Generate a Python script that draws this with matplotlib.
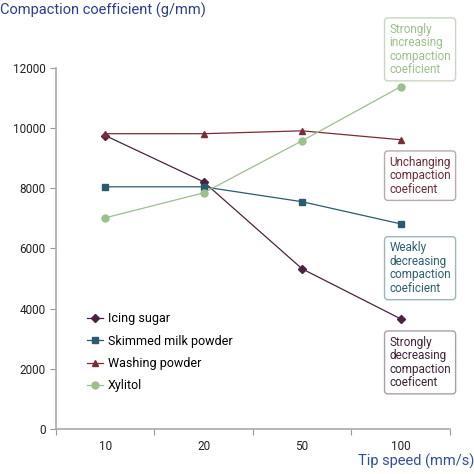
"""Compaction coefficient vs tip speed for four powders."""

import matplotlib
matplotlib.use("Agg")
import matplotlib.pyplot as plt
import matplotlib as mpl

mpl.rcParams.update({
    "font.family": ["Roboto", "DejaVu Sans"],
    "font.size": 9,
    "axes.spines.top": False,
    "axes.spines.right": False,
})

speeds = ["10", "20", "50", "100"]
icing_sugar = [9750, 8210, 5320, 3660]
skimmed_milk = [8045, 8045, 7550, 6815]
washing_powder = [9810, 9810, 9905, 9610]
xylitol = [7015, 7845, 9575, 11370]

notes = [
    ("Strongly\nincreasing\ncompaction\ncoeficient", 13500, "#9cbf8e", "#c9d6c2"),
    ("Unchanging\ncompaction\ncoeficent", 9080, "#6e2b36", "#b9a9ad"),
    ("Weakly\ndecreasing\ncompaction\ncoeficient", 6230, "#2e5f6e", "#9fb4ba"),
    ("Strongly\ndecreasing\ncompaction\ncoeficent", 3100, "#3f2338", "#a99fa6"),
]

fig = plt.figure(figsize=(4.74, 4.74), dpi=100)
ax = fig.add_axes([0.118, 0.095, 0.831, 0.762])

xs = [i + 0.5 for i in range(len(speeds))]
series = [
    ("Icing sugar", icing_sugar, "#4a2342", "D", 4.5),
    ("Skimmed milk powder", skimmed_milk, "#2b5b6c", "s", 5),
    ("Washing powder", washing_powder, "#7b2b35", "^", 5),
    ("Xylitol", xylitol, "#9cbf8e", "o", 5),
]
for name, vals, col, mk, ms in series:
    ax.plot(xs, vals, color=col, linewidth=0.9, marker=mk, markersize=ms,
            label=name, clip_on=False, zorder=3)

ax.set_xlim(0, 4)
ax.set_ylim(0, 12000)
ax.set_yticks(range(0, 12001, 2000))
ax.set_xticks(range(5))
ax.set_xticklabels([])
ax.set_xticks(xs, minor=True)
ax.set_xticklabels(speeds, minor=True)
ax.tick_params(axis="x", which="minor", length=0, pad=8)
ax.tick_params(axis="both", which="major", length=4, color="#999999",
               labelsize=8.5, labelcolor="#222222")
ax.tick_params(axis="x", which="minor", labelsize=8.5, labelcolor="#222222")
for s in ("left", "bottom"):
    ax.spines[s].set_color("#aaaaaa")
    ax.spines[s].set_linewidth(1.2)

for text, y, tcol, ecol in notes:
    ax.text(3.385, y, text, color=tcol, fontsize=8.5, ha="left", va="top",
            linespacing=1.05, clip_on=False, zorder=2,
            bbox=dict(boxstyle="round,pad=0.4,rounding_size=0.3",
                      facecolor="white", edgecolor=ecol, linewidth=1))

ax.legend(loc="lower left", bbox_to_anchor=(0.05, 0.07), frameon=False,
          fontsize=9, handlelength=1.3, handletextpad=0.4, labelspacing=0.75)

fig.text(0.0, 0.995, "Compaction coefficient (g/mm)", color="#2e3d8f",
         fontsize=10.5, ha="left", va="top")
fig.text(1.0, 0.01, "Tip speed (mm/s)", color="#2e4f9a",
         fontsize=10.5, ha="right", va="bottom")

fig.savefig("out.png", dpi=100)
